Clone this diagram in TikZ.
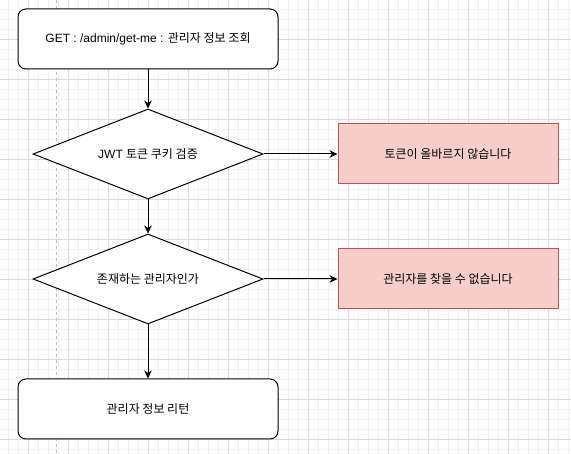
\documentclass[tikz,border=0pt]{standalone}
\usepackage{fontspec}
\setmainfont{Liberation Sans}
\newfontfamily\kr{Noto Sans CJK KR}
\usetikzlibrary{shapes.geometric,arrows.meta}
\definecolor{errfill}{HTML}{F8CECC}
\definecolor{errdraw}{HTML}{B85450}
\definecolor{minorgrid}{HTML}{F3F3F3}
\definecolor{majorgrid}{HTML}{DADADA}
\definecolor{pageline}{HTML}{BDBDBD}
\tikzset{
  base/.style={font=\fontsize{12pt}{14pt}\selectfont, text=black, line width=1pt, draw=black, align=center, inner sep=0pt},
  roundbox/.style={base, rectangle, rounded corners=8pt, minimum width=260pt, minimum height=60pt, fill=white},
  decision/.style={base, diamond, aspect=2.5556, minimum width=230pt, minimum height=90pt, fill=white},
  errbox/.style={base, rectangle, minimum width=220pt, minimum height=60pt, fill=errfill, draw=errdraw},
  flow/.style={line width=1pt, -{Stealth[length=8pt,width=7.5pt,inset=2.5pt]}}
}
\begin{document}
\begin{tikzpicture}[x=1pt,y=-1pt]
\useasboundingbox (0,0) rectangle (571,454);
\fill[white] (0,0) rectangle (571,454);
\foreach \x in {8,18,...,568} \draw[minorgrid, line width=0.8pt] (\x,0) -- (\x,454);
\foreach \y in {9,19,...,449} \draw[minorgrid, line width=0.8pt] (0,\y) -- (571,\y);
\foreach \x in {28,68,...,548} \draw[majorgrid, line width=0.8pt] (\x,0) -- (\x,454);
\foreach \y in {39,79,...,439} \draw[majorgrid, line width=0.8pt] (0,\y) -- (571,\y);
\draw[pageline, line width=0.8pt, dash pattern=on 3pt off 3pt] (56.5,0) -- (56.5,454);

\node[roundbox] (top) at (148,39) {GET : /admin/get-me : {\kr 관리자 정보 조회}};
\node[decision] (d1) at (148,154) {JWT {\kr 토큰 쿠키 검증}};
\node[errbox] (e1) at (448,154) {\kr 토큰이 올바르지 않습니다};
\node[decision] (d2) at (148,279) {\kr 존재하는 관리자인가};
\node[errbox] (e2) at (448,279) {\kr 관리자를 찾을 수 없습니다};
\node[roundbox] (bot) at (148,409) {\kr 관리자 정보 리턴};

\draw[flow] (top.south) -- (d1.north);
\draw[flow] (d1.east) -- (e1.west);
\draw[flow] (d1.south) -- (d2.north);
\draw[flow] (d2.east) -- (e2.west);
\draw[flow] (d2.south) -- (bot.north);
\end{tikzpicture}
\end{document}
